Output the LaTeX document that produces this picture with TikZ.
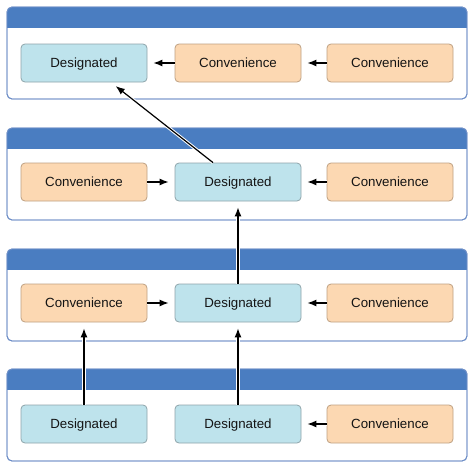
\documentclass[tikz,border=0pt]{standalone}
\usepackage{fontspec}
\setsansfont{Liberation Sans}
\usetikzlibrary{arrows.meta,calc}
\definecolor{barblue}{RGB}{74,125,193}
\definecolor{frameblue}{RGB}{112,144,200}
\definecolor{desigpale}{RGB}{190,227,236}
\definecolor{desigedge}{RGB}{142,164,170}
\definecolor{convpale}{RGB}{252,216,178}
\definecolor{convedge}{RGB}{190,160,130}
\definecolor{textdark}{RGB}{20,20,20}

\begin{document}
\begin{tikzpicture}[x=1pt,y=-1pt,>=Latex,
  every node/.style={font=\sffamily\fontsize{13.3}{16}\selectfont,text=textdark},
  initbox/.style={draw,rounded corners=4pt,line width=0.8pt,minimum width=126pt,minimum height=38pt,
    inner sep=0pt,text height=10.8pt,text depth=1pt},
  desig/.style={initbox,fill=desigpale,draw=desigedge},
  conv/.style={initbox,fill=convpale,draw=convedge},
  link/.style={-{Latex[length=9pt,width=7pt]},line width=1.2pt,shorten >=6pt,
    preaction={draw=white,line width=3.2pt,-}}]
  \useasboundingbox (0,0) rectangle (474,469);
  % class panels
  \foreach \t in {7,128,249,369} {
    \draw[frameblue,fill=white,line width=0.9pt,rounded corners=5pt] (7,\t) rectangle (467,\t+92);
    \begin{scope}
      \clip[rounded corners=5pt] (7,\t) rectangle (467,\t+92);
      \fill[barblue] (7,\t) rectangle (467,\t+21);
    \end{scope}
    \draw[frameblue,line width=0.9pt,rounded corners=5pt] (7,\t) rectangle (467,\t+92);
  }
  % initializers
  \node[desig] (d1)  at (84,63)   {Designated};
  \node[conv]  (c1m) at (238,63)  {Convenience};
  \node[conv]  (c1r) at (390,63)  {Convenience};
  \node[conv]  (c2l) at (84,182)  {Convenience};
  \node[desig] (d2)  at (238,182) {Designated};
  \node[conv]  (c2r) at (390,182) {Convenience};
  \node[conv]  (c3l) at (84,303)  {Convenience};
  \node[desig] (d3)  at (238,303) {Designated};
  \node[conv]  (c3r) at (390,303) {Convenience};
  \node[desig] (d4l) at (84,424)  {Designated};
  \node[desig] (d4m) at (238,424) {Designated};
  \node[conv]  (c4r) at (390,424) {Convenience};
  % delegation
  \draw[link] (c1r) -- (c1m);
  \draw[link] (c1m) -- (d1);
  \draw[link] (c2l) -- (d2);
  \draw[link] (c2r) -- (d2);
  \draw[link] ($(d2.north)+(-25,0)$) -- ($(d1.south)+(27,0)$);
  \draw[link] (c3l) -- (d3);
  \draw[link] (c3r) -- (d3);
  \draw[link] (d3) -- (d2);
  \draw[link] (d4l) -- (c3l);
  \draw[link] (d4m) -- (d3);
  \draw[link] (c4r) -- (d4m);
\end{tikzpicture}
\end{document}
